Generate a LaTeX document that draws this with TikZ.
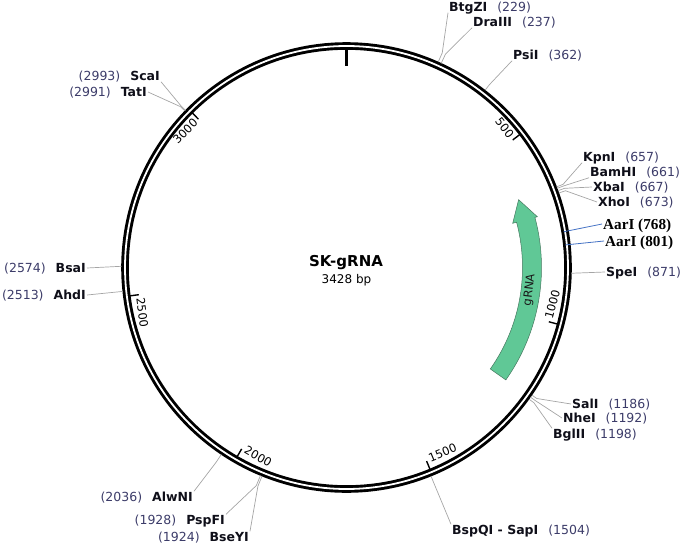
\documentclass[tikz,border=0pt]{standalone}
\usepackage{fontspec}
\usetikzlibrary{calc}
\newfontfamily\dv{DejaVu Sans}
\newfontfamily\srf{Liberation Serif}
\definecolor{numcol}{RGB}{60,60,105}
\definecolor{namecol}{RGB}{15,15,25}
\definecolor{linecol}{RGB}{165,165,165}
\definecolor{aarcol}{RGB}{68,114,196}
\definecolor{grnafill}{RGB}{96,200,150}
\definecolor{grnaedge}{RGB}{70,120,95}
\newcommand\ringpt[3]{\coordinate (#1) at ({346.5+(#3)*sin(#2)},{267.5-(#3)*cos(#2)});}
\newcommand\bppt[3]{\ringpt{#1}{((#2)/3428*360)}{#3}}
\newcommand\siteR[2]{{\bfseries #1}\hspace{10pt}{\color{numcol}(#2)}}
\newcommand\siteL[2]{{\color{numcol}(#1)}\hspace{10pt}{\bfseries #2}}
\begin{document}
\begin{tikzpicture}[x=1pt,y=-1pt,
  lbl/.style={font=\dv\fontsize{12.5}{14}\selectfont, text=namecol, inner sep=1pt, text height=9.1pt, text depth=0pt},
  serlbl/.style={font=\srf\bfseries\fontsize{15.2}{17}\selectfont, text=black, inner sep=1pt, text height=10pt, text depth=0pt},
  siteline/.style={draw=linecol, line width=0.7pt},
  aarline/.style={draw=aarcol, line width=0.8pt},
  ticklbl/.style={font=\dv\fontsize{11.5}{12}\selectfont, inner sep=0.5pt},
  tickln/.style={line width=1.4pt},
  ringout/.style={line width=7.6pt, draw=black},
  ringgap/.style={line width=1.8pt, draw=white},
]
\useasboundingbox (0,0) rectangle (685,546);
\coordinate (C) at (346.5,267.5);

% ring
\draw[ringout] (C) circle[radius=221.5pt];
\draw[ringgap] (C) circle[radius=221.5pt];

% ticks
\ringpt{z0a}{0}{218}\ringpt{z0b}{0}{202}
\draw[line width=2.5pt] (z0a) -- (z0b);
\foreach \v in {500,1000,1500,2000,2500,3000}{
  \bppt{ta}{\v}{218.5}\bppt{tb}{\v}{209.5}
  \draw[tickln] (ta) -- (tb);
}
\node[ticklbl, rotate=-52.51, anchor=north east] (t500) at ({346.5+215.5*sin(51.8)},{267.5-215.5*cos(51.8)}) {500};
\node[ticklbl, rotate=45, anchor=north east] (t3000) at ({346.5+215.5*sin(314.4)},{267.5-215.5*cos(314.4)}) {3000};
\node[ticklbl, rotate=75, anchor=base west] (t1000) at ({346.5+212.5*sin(104.3)},{267.5-212.5*cos(104.3)}) {1000};
\node[ticklbl, rotate=22.47, anchor=base west] (t1500) at ({346.5+212*sin(156.8)},{267.5-212*cos(156.8)}) {1500};
\node[ticklbl, rotate=-30.04, anchor=base west] (t2000) at ({346.5+212*sin(209.3)},{267.5-212*cos(209.3)}) {2000};
\node[ticklbl, rotate=-82.54, anchor=base west] (t2500) at ({346.5+212.5*sin(261.8)},{267.5-212.5*cos(261.8)}) {2500};

% gRNA feature arrow
\filldraw[fill=grnafill, draw=grnaedge, line width=0.5pt]
  plot[domain=125.2:75.1, samples=40] ({346.5+176*sin(\x)},{267.5-176*cos(\x)})
  -- ({346.5+172*sin(75.1)},{267.5-172*cos(75.1)})
  -- ({346.5+185*sin(68.5)},{267.5-185*cos(68.5)})
  -- ({346.5+197.5*sin(75.1)},{267.5-197.5*cos(75.1)})
  -- plot[domain=75.1:125.2, samples=40] ({346.5+195*sin(\x)},{267.5-195*cos(\x)})
  -- cycle;
\node[font=\dv\fontsize{11.5}{13}\selectfont, text=black!90, rotate=83, inner sep=0pt] (grna) at ({346.5+184.5*sin(97)},{267.5-184.5*cos(97)}) {gRNA};

% title
\node[font=\dv\bfseries\fontsize{15}{17}\selectfont, anchor=base, inner sep=0pt] (title) at (346,266.8) {SK-gRNA};
\node[font=\dv\fontsize{12}{14}\selectfont, anchor=base, inner sep=0pt] (size) at (346.5,283.2) {3428 bp};

% ---- sites, right side ----
\node[lbl, anchor=west] (btg) at (448,7) {\siteR{BtgZI}{229}};
\bppt{btgA}{229}{225}\bppt{btgB}{229}{235}
\draw[siteline] (btgA) -- (btgB) -- (btg.south west);

\node[lbl, anchor=west] (dra) at (472,22) {\siteR{DraIII}{237}};
\bppt{draA}{237}{225}\bppt{draB}{237}{235}
\draw[siteline] (draA) -- (draB) -- (dra.south west);

\node[lbl, anchor=west] (psi) at (512,55) {\siteR{PsiI}{362}};
\bppt{psiA}{362}{225}\bppt{psiB}{362}{232}
\draw[siteline] (psiA) -- (psiB) -- (psi.south west);

\node[lbl, anchor=west] (kpn) at (582,157) {\siteR{KpnI}{657}};
\bppt{kpnA}{657}{225}\bppt{kpnB}{657}{232}
\draw[siteline] (kpnA) -- (kpnB) -- (kpn.south west);

\node[lbl, anchor=west] (bam) at (589,172) {\siteR{BamHI}{661}};
\bppt{bamA}{661}{225}\bppt{bamB}{661}{232}
\draw[siteline] (bamA) -- (bamB) -- (bam.south west);

\node[lbl, anchor=west] (xba) at (592,187) {\siteR{XbaI}{667}};
\bppt{xbaA}{667}{225}\bppt{xbaB}{667}{232}
\draw[siteline] (xbaA) -- (xbaB) -- (xba.west);

\node[lbl, anchor=west] (xho) at (597,202) {\siteR{XhoI}{673}};
\bppt{xhoA}{673}{225}\bppt{xhoB}{673}{232}
\draw[siteline] (xhoA) -- (xhoB) -- (xho.west);

\node[serlbl, anchor=west] (aar1) at (602,224) {AarI (768)};
\bppt{aar1A}{768}{220}
\draw[aarline] (aar1A) -- (aar1.west);

\node[serlbl, anchor=west] (aar2) at (604,241) {AarI (801)};
\bppt{aar2A}{801}{220}
\draw[aarline] (aar2A) -- (aar2.west);

\node[lbl, anchor=west] (spe) at (605,272) {\siteR{SpeI}{871}};
\bppt{speA}{871}{225}
\draw[siteline] (speA) -- (spe.west);

\node[lbl, anchor=west] (sal) at (571,404) {\siteR{SalI}{1186}};
\bppt{salA}{1186}{225}\bppt{salB}{1186}{231}
\draw[siteline] (salA) -- (salB) -- (sal.west);

\node[lbl, anchor=west] (nhe) at (562,418) {\siteR{NheI}{1192}};
\bppt{nheA}{1192}{225}\bppt{nheB}{1192}{231}
\draw[siteline] (nheA) -- (nheB) -- (nhe.west);

\node[lbl, anchor=west] (bgl) at (552,434) {\siteR{BglII}{1198}};
\bppt{bglA}{1198}{225}\bppt{bglB}{1198}{231}
\draw[siteline] (bglA) -- (bglB) -- (bgl.north west);

\node[lbl, anchor=west] (bsp) at (451,530) {\siteR{BspQI - SapI}{1504}};
\bppt{bspA}{1504}{225}\bppt{bspB}{1504}{231}
\draw[siteline] (bspA) -- (bspB) -- (bsp.north west);

% ---- sites, left side ----
\node[lbl, anchor=east] (alw) at (194,497) {\siteL{2036}{AlwNI}};
\bppt{alwA}{2036}{225}\bppt{alwB}{2036}{235}
\draw[siteline] (alwA) -- (alwB) -- (alw.north east);

\node[lbl, anchor=east] (psp) at (226,520) {\siteL{1928}{PspFI}};
\bppt{pspA}{1928}{225}\bppt{pspB}{1928}{236}
\draw[siteline] (pspA) -- (pspB) -- (psp.north east);

\node[lbl, anchor=east] (bse) at (250,537) {\siteL{1924}{BseYI}};
\bppt{bseA}{1924}{225}\bppt{bseB}{1924}{236}
\draw[siteline] (bseA) -- (bseB) -- (bse.north east);

\node[lbl, anchor=east] (bsa) at (87,268) {\siteL{2574}{BsaI}};
\bppt{bsaA}{2574}{225}
\draw[siteline] (bsaA) -- (bsa.east);

\node[lbl, anchor=east] (ahd) at (87,295) {\siteL{2513}{AhdI}};
\bppt{ahdA}{2513}{225}\bppt{ahdB}{2513}{230}
\draw[siteline] (ahdA) -- (ahdB) -- (ahd.east);

\node[lbl, anchor=east] (sca) at (161,76) {\siteL{2993}{ScaI}};
\bppt{scaA}{2993}{225}\bppt{scaB}{2993}{231}
\draw[siteline] (scaA) -- (scaB) -- (sca.south east);

\node[lbl, anchor=east] (tat) at (148,92) {\siteL{2991}{TatI}};
\bppt{tatA}{2991}{225}\bppt{tatB}{2991}{231}
\draw[siteline] (tatA) -- (tatB) -- (tat.east);
\end{tikzpicture}
\end{document}
